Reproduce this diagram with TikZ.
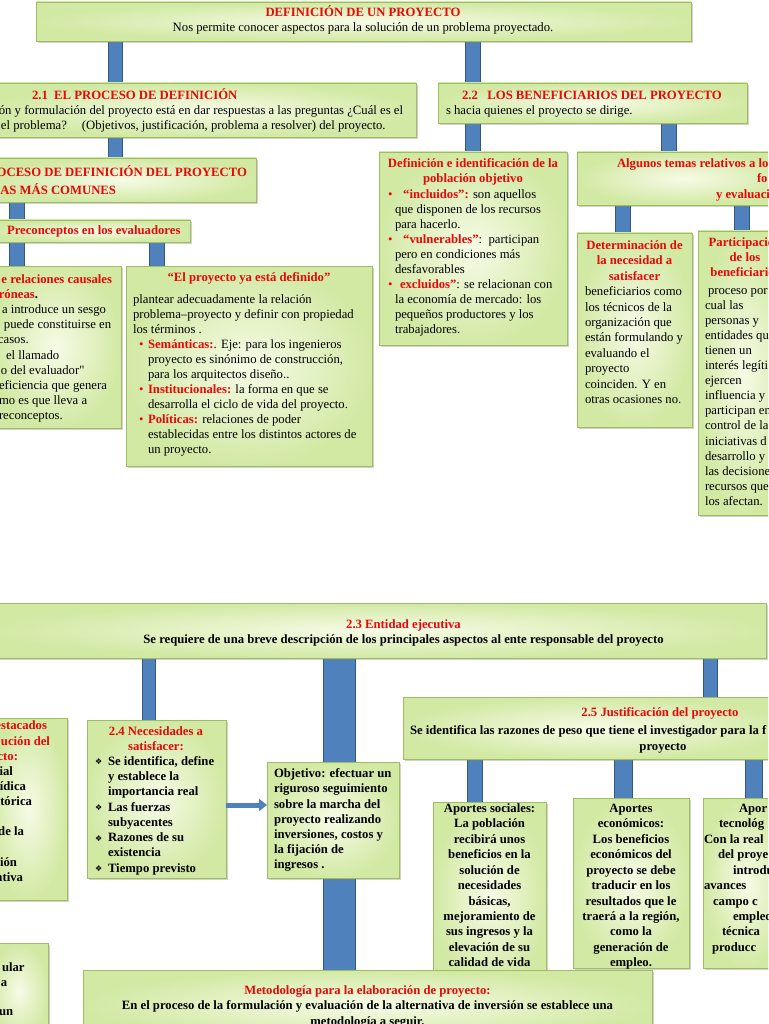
\documentclass[tikz,border=0pt]{standalone}
\usepackage{fontspec}
\setmainfont{Liberation Serif}
\newfontfamily\rawser[Ligatures=TeXOff]{Liberation Serif}
\newfontfamily\djv{DejaVu Sans}
\usetikzlibrary{shadows,arrows.meta}
\definecolor{tred}{RGB}{232,8,8}
\definecolor{bin}{RGB}{246,251,230}
\definecolor{bout}{RGB}{210,233,164}
\definecolor{bline}{RGB}{158,188,98}
\definecolor{barf}{RGB}{79,129,189}
\definecolor{bard}{RGB}{52,88,132}
\newcommand\fs[1]{\fontsize{12.7}{#1}\selectfont}
\newcommand\rt[1]{\textcolor{tred}{\textbf{#1}}}
\newcommand\st{\rule{0pt}{12.5pt}}
\newcommand\bux[2]{\hbox to #2pt{\hspace{#1pt}\textcolor{tred}{•}\hfil}}
\newcommand\ind[1]{\hbox to #1pt{\hfil}}
\newcommand\dia{\hbox to 13pt{\raisebox{0.6pt}{\djv\fontsize{8}{9}\selectfont ❖}\hfil}}
\newcommand\mkbox[5]{\node[box, minimum width={(#4)-(#2)}, minimum height={(#5)-(#3)}] (#1) at (#2,#3) {};}
\newcommand\barc[4]{\draw[bar] (#1,0 |- #3.south) rectangle (#2,0 |- #4.north);}
\pgfdeclarelayer{back}
\pgfdeclarelayer{bg}
\pgfsetlayers{back,bg,main}
\begin{document}
\begin{tikzpicture}[x=1pt,y=-1pt,
 box/.style={draw=bline, line width=0.8pt, inner color=bin, outer color=bout,
   drop shadow={shadow xshift=2pt, shadow yshift=-2pt, opacity=0.35},
   inner sep=0pt, outer sep=0pt, anchor=north west},
 bar/.style={fill=barf, draw=bard, line width=0.6pt},
 tl/.style={inner sep=0pt, outer sep=0pt, font=\fs{15.3}, align=left, anchor=north west,
   yshift=12.5pt},
 tc/.style={tl, align=center, anchor=north},
 ln/.style={inner sep=0pt, outer sep=0pt, font=\fs{15.3}, anchor=base west},
 lr/.style={ln, anchor=base east},
 lc/.style={ln, anchor=base},
 blk/.style={-{Triangle[length=8pt,width=12pt]}, line width=5pt, draw=barf}
]
\path[use as bounding box] (0,0) rectangle (768,1024);
\begin{pgfonlayer}{back}
\fill[white] (0,0) rectangle (768,1024);
\end{pgfonlayer}
\clip (0,0) rectangle (768,1024);

% ---------- boxes ----------
\mkbox{top}{36}{2}{691}{41}
\mkbox{b21}{-10}{83}{416}{137}
\mkbox{proc}{-10}{158}{256}{202}
\mkbox{prec}{-10}{220}{190}{242}
\mkbox{rel}{-10}{266}{121}{428}
\mkbox{pya}{126}{266}{372}{466}
\mkbox{b22}{438}{83}{747}{123}
\mkbox{defp}{379}{152}{567}{345}
\mkbox{alg}{577}{152}{790}{205}
\mkbox{det}{577}{233}{692}{427}
\mkbox{par}{698}{231}{790}{515}
\mkbox{b23}{-10}{603}{766}{658}
\mkbox{b25}{403}{697}{790}{759}
\mkbox{dest}{-10}{718}{67}{900}
\mkbox{b24}{87}{720}{226}{878}
\mkbox{obj}{267}{762}{399}{878}
\mkbox{soc}{433}{802}{546}{990}
\mkbox{eco}{573}{798}{689}{968}
\mkbox{tec}{703}{798}{790}{968}
\mkbox{botl}{-10}{943}{48}{1040}
\mkbox{met}{83}{970}{652}{1040}

% ---------- connectors ----------
\begin{pgfonlayer}{bg}
\barc{108}{122}{top}{b21}
\barc{465}{480}{top}{b22}
\barc{108}{122}{b21}{proc}
\barc{9}{24}{proc}{prec}
\barc{9}{24}{prec}{rel}
\barc{149}{164}{prec}{pya}
\barc{465}{480}{b22}{defp}
\barc{661}{676}{b22}{alg}
\barc{615}{630}{alg}{det}
\barc{734}{749}{alg}{par}
\barc{142}{155}{b23}{b24}
\barc{323}{355}{b23}{met}
\barc{703}{717}{b23}{b25}
\barc{467}{482}{b25}{soc}
\barc{614}{632}{b25}{eco}
\barc{745}{762}{b25}{tec}
\end{pgfonlayer}
\draw[blk] (b24.east |- 0,805) -- (obj.west |- 0,805);

% ---------- top half texts ----------
\node[tc, font=\fs{15}] (ttop) at (363,16.7) {\st\rt{DEFINICIÓN DE UN PROYECTO}\\Nos permite conocer aspectos para la solución de un problema proyectado.};

\node[ln] (t21a) at (32,99.3) {\rt{2.1\ \ EL PROCESO DE DEFINICIÓN}};
\node[lr] (t21b) at (403,114.7) {ón y formulación del proyecto está en dar respuestas a las preguntas ¿Cuál es el};
\node[ln] (t21c) at (1,129.8) {el problema?\hspace{15pt}(Objetivos, justificación, problema a resolver) del proyecto.};

\node[lr] (tpa) at (247,176.7) {\rt{OCESO DE DEFINICIÓN DEL PROYECTO}};
\node[lr] (tpb) at (116,195) {\rt{AS MÁS COMUNES}};
\node[ln] (tpc) at (7,235) {\rt{Preconceptos en los evaluadores}};

\node[lr] (tra) at (112,283.3) {\rt{e relaciones causales}};
\node[lr] (trb) at (38,298) {\textbf{\textcolor{tred}{róneas}.}};
\node[ln] (trc) at (2,313.5) {a introduce un sesgo};
\node[ln] (trd) at (4,328.7) {puede constituirse en};
\node[ln] (tre) at (-2,343.9) {casos.};
\node[ln] (trf) at (6,359.1) {el llamado};
\node[ln] (trg) at (1,374.3) {o del evaluador{\rawser"}};
\node[ln] (trh) at (-1,389.5) {eficiencia que genera};
\node[ln] (tri) at (-1,404.7) {mo es que lleva a};
\node[ln] (trj) at (-1,419.9) {reconceptos.};

\node[lc] (tya) at (249,281) {\rt{“El proyecto ya está definido”}};
\node[tl, font=\fs{15}] (tyb) at (133,303.7) {\st plantear adecuadamente la relación\\
problema–proyecto y definir con propiedad\\
los términos .\\
\bux{6}{15}\rt{Semánticas:}. Eje: para los ingenieros\\
\ind{15}proyecto es sinónimo de construcción,\\
\ind{15}para los arquitectos diseño..\\
\bux{6}{15}\rt{Institucionales:} la forma en que se\\
\ind{15}desarrolla el ciclo de vida del proyecto.\\
\bux{6}{15}\rt{Políticas:} relaciones de poder\\
\ind{15}establecidas entre los distintos actores de\\
\ind{15}un proyecto.};

\node[ln] (t22a) at (462,99.3) {\rt{2.2\ \ \ LOS BENEFICIARIOS DEL PROYECTO}};
\node[ln] (t22b) at (446,114.3) {s hacia quienes el proyecto se dirige.};

\node[tc] (tda) at (473,167.7) {\st\rt{Definición e identificación de la}\\\rt{población objetivo}};
\node[tl, font=\fs{15.1}] (tdb) at (386,198) {\st\bux{2}{14}\ \rt{“incluidos”:} son aquellos\\
\ind{9}que disponen de los recursos\\
\ind{9}para hacerlo.\\
\bux{2}{14}\ \rt{“vulnerables”}:\ \ participan\\
\ind{9}pero en condiciones más\\
\ind{9}desfavorables\\
\bux{2}{14}\rt{excluidos”}: se relacionan con\\
\ind{9}la economía de mercado: los\\
\ind{9}pequeños productores y los\\
\ind{9}trabajadores.};

\node[ln] (tala) at (617,167.7) {\rt{Algunos temas relativos a lo}};
\node[ln] (talb) at (757,183) {\rt{fo}};
\node[ln] (talc) at (716,198.5) {\rt{y evaluaci}};

\node[tc, font=\fs{15.8}] (tdea) at (634.5,249) {\st\rt{Determinación de}\\\rt{la necesidad a}\\\rt{satisfacer}};
\node[tl, font=\fs{15.4}] (tdeb) at (585,295.7) {\st beneficiarios como\\los técnicos de la\\organización que\\están formulando y\\evaluando el\\proyecto\\coinciden. Y en\\otras ocasiones no.};

\node[tc, font=\fs{15.4}] (tpaa) at (745,246) {\st\rt{Participación}\\\rt{de los}\\\rt{beneficiarios}};
\node[tl, font=\fs{15.1}] (tpab) at (705,294) {\st\hspace*{3pt}proceso por\\cual las\\personas y\\entidades qu\\tienen un\\interés legíti\\ejercen\\influencia y\\participan en\\control de la\\iniciativas d\\desarrollo y\\las decisione\\recursos que\\los afectan.};

% ---------- bottom half texts ----------
\node[tc, font=\fs{15}\bfseries] (t23) at (403.5,628) {\st\rt{2.3 Entidad ejecutiva}\\Se requiere de una breve descripción de los principales aspectos al ente responsable del proyecto};

\node[lr, font=\fs{15.3}\bfseries] (tea) at (47,729.3) {\textcolor{tred}{estacados}};
\node[lr, font=\fs{15.3}\bfseries] (teb) at (50,745) {\textcolor{tred}{ución del}};
\node[lr, font=\fs{15.3}\bfseries] (tec) at (18,760) {\textcolor{tred}{cto:}};
\node[lr, font=\fs{15.3}\bfseries] (ted) at (13,775) {ial};
\node[lr, font=\fs{15.3}\bfseries] (tee) at (26,790) {ídica};
\node[lr, font=\fs{15.3}\bfseries] (tef) at (32,805) {stórica};
\node[lr, font=\fs{15.3}\bfseries] (teg) at (24,835) {de la};
\node[lr, font=\fs{15.3}\bfseries] (teh) at (17,866.7) {ión};
\node[lr, font=\fs{15.3}\bfseries] (tei) at (23,881.7) {ntiva};

\node[tc, font=\fs{15.3}\bfseries] (t24a) at (156,735) {\st\rt{2.4 Necesidades a}\\\rt{satisfacer:}};
\node[tl, font=\fs{15.33}\bfseries] (t24b) at (95,765) {\st\dia Se identifica, define\\\ind{13}y establece la\\\ind{13}importancia real\\\dia Las fuerzas\\\ind{13}subyacentes\\\dia Razones de su\\\ind{13}existencia\\\dia Tiempo previsto};

\node[tl, font=\fs{15.2}\bfseries] (tob) at (274,777.7) {\st Objetivo: efectuar un\\riguroso seguimiento\\sobre la marcha del\\proyecto realizando\\inversiones, costos y\\la fijación de\\ingresos .};

\node[lc] (t25a) at (660,716.7) {\rt{2.5 Justificación del proyecto}};
\node[ln, font=\fs{15.3}\bfseries] (t25b) at (410,734.3) {Se identifica las razones de peso que tiene el investigador para la f};
\node[lc, font=\fs{15.3}\bfseries] (t25c) at (663,750) {proyecto};

\node[tc, font=\fs{15.45}\bfseries] (tso) at (489.5,812.3) {\st Aportes sociales:\\La población\\recibirá unos\\beneficios en la\\solución de\\necesidades\\básicas,\\mejoramiento de\\sus ingresos y la\\elevación de su\\calidad de vida};
\node[tc, font=\fs{15.45}\bfseries] (tecn) at (631,812.3) {\st Aportes\\económicos:\\Los beneficios\\económicos del\\proyecto se debe\\traducir en los\\resultados que le\\traerá a la región,\\como la\\generación de\\empleo.};

\node[ln, font=\fs{15}\bfseries] (tta) at (739,812.3) {Apor};
\node[ln, font=\fs{15}\bfseries] (ttb) at (719,827.75) {tecnológ};
\node[ln, font=\fs{15}\bfseries] (ttc) at (704,843.2) {Con la real};
\node[ln, font=\fs{15}\bfseries] (ttd) at (718,858.65) {del proye};
\node[ln, font=\fs{15}\bfseries] (tte) at (733,874.1) {introdu};
\node[ln, font=\fs{15}\bfseries] (ttf) at (704,889.55) {avances};
\node[ln, font=\fs{15}\bfseries] (ttg) at (713,905) {campo c};
\node[ln, font=\fs{15}\bfseries] (tth) at (733,920.45) {empleo};
\node[ln, font=\fs{15}\bfseries] (tti) at (722,935.9) {técnica};
\node[ln, font=\fs{15}\bfseries] (ttj) at (712,951.35) {producc};

\node[ln, font=\fs{15}\bfseries] (tbla) at (2,971.7) {ular};
\node[ln, font=\fs{15}\bfseries] (tblb) at (1,986) {a};
\node[ln, font=\fs{15}\bfseries] (tblc) at (-1,1015) {un};

\node[tc, font=\fs{15.5}\bfseries] (tmet) at (367.5,994) {\st\textcolor{tred}{Metodología para la elaboración de proyecto:}\\En el proceso de la formulación y evaluación de la alternativa de inversión se establece una\\metodología a seguir.};
\end{tikzpicture}
\end{document}
